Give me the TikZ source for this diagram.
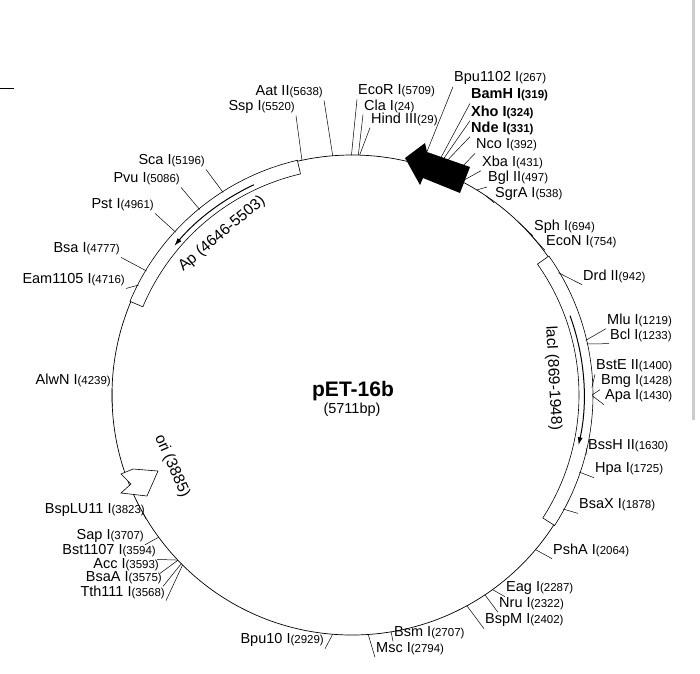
\documentclass[tikz,border=0pt]{standalone}
\usepackage{fontspec}
\setmainfont{Liberation Sans}
\usetikzlibrary{calc,arrows.meta}
\newcommand\numb[1]{{\fontsize{11.5}{12}\selectfont(#1)}}
\tikzset{lab/.style={font=\fontsize{14.5}{15}\selectfont,inner sep=1pt},
  leader/.style={line width=0.5pt},
  featbox/.style={draw,fill=white,line width=0.6pt},
  featlab/.style={font=\fontsize{15.5}{16}\selectfont},
  featarrow/.style={line width=1pt,-{Latex[length=8pt,width=5pt]}}}
\newcommand\site[5]{\node[lab,anchor=#5] (s#1) at (#3,#4) {#2};
  \draw[leader] ($(C)+({-90+#1/5711*360}:240)$) -- ([yshift=-1pt]s#1.south #5);}
\begin{document}
\begin{tikzpicture}[x=1pt,y=-1pt]
\useasboundingbox (0,0) rectangle (700,673);
\coordinate (C) at (352,395);
\draw[line width=0.7pt] (C) circle[radius=240];
\draw[line width=0.6pt] (0,88) -- (14,88);
\draw[gray!40,line width=3pt] (693,0) -- (693,420);
% feature boxes
\draw[featbox] ($(C)+(202.87:227)$) arc[start angle=202.87,end angle=256.89,radius=227] -- ($(C)+(256.89:241)$) arc[start angle=256.89,end angle=202.87,radius=241] -- cycle;
\draw[featarrow] ($(C)+(245:232)$) arc[start angle=245,end angle=220,radius=232];
\draw[featbox] ($(C)+(-35.22:227)$) arc[start angle=-35.22,end angle=32.79,radius=227] -- ($(C)+(32.79:241)$) arc[start angle=32.79,end angle=-35.22,radius=241] -- cycle;
\draw[featarrow] ($(C)+(-20:232)$) arc[start angle=-20,end angle=12.5,radius=232];
% black T7 arrow
\fill (405,158) -- (425,143) -- (427,152) -- (470,167) -- (460,193) -- (423,178) -- (420,185) -- cycle;
% ori
\draw[featbox] (121,474) -- (133,469) -- (158,471) -- (147,496) -- (121,493) -- (131,484) -- cycle;
% center
\node[font=\bfseries\fontsize{21}{23}\selectfont] (title) at (353,391) {pET-16b};
\node[font=\fontsize{14.5}{15}\selectfont] (size) at (352,410) {(5711bp)};
\node[featlab,rotate=40] (ap) at (222,234) {Ap (4646-5503)};
\node[featlab,rotate=-87] (laci) at (553,378) {lacI (869-1948)};
\node[featlab,rotate=-66] (ori) at (172,466) {ori (3885)};
% sites right
\site{267}{Bpu1102 I\numb{267}}{453}{78}{west}
\site{319}{\bfseries BamH I\numb{319}}{470}{95}{west}
\site{324}{\bfseries Xho I\numb{324}}{470}{112}{west}
\site{331}{\bfseries Nde I\numb{331}}{470}{128}{west}
\site{392}{Nco I\numb{392}}{475}{145}{west}
\site{431}{Xba I\numb{431}}{481}{162}{west}
\site{497}{Bgl II\numb{497}}{487}{178}{west}
\site{538}{SgrA I\numb{538}}{494}{194}{west}
\site{694}{Sph I\numb{694}}{533}{227}{west}
\site{754}{EcoN I\numb{754}}{545}{242}{west}
\site{942}{Drd II\numb{942}}{582}{276}{west}
\site{1219}{Mlu I\numb{1219}}{606}{320}{west}
\site{1233}{Bcl I\numb{1233}}{609}{335}{west}
\site{1400}{BstE II\numb{1400}}{595}{366}{west}
\site{1428}{Bmg I\numb{1428}}{600}{381}{west}
\site{1430}{Apa I\numb{1430}}{604}{396}{west}
\site{1630}{BssH II\numb{1630}}{587}{446}{west}
\site{1725}{Hpa I\numb{1725}}{594}{469}{west}
\site{1878}{BsaX I\numb{1878}}{578}{505}{west}
\site{2064}{PshA I\numb{2064}}{552}{550}{west}
\site{2287}{Eag I\numb{2287}}{505}{588}{west}
\site{2322}{Nru I\numb{2322}}{498}{604}{west}
\site{2402}{BspM I\numb{2402}}{484}{620}{west}
\site{2707}{Bsm I\numb{2707}}{393}{633}{west}
\site{2794}{Msc I\numb{2794}}{375}{649}{west}
\site{5709}{EcoR I\numb{5709}}{357}{91}{west}
\site{24}{Cla I\numb{24}}{363}{106}{west}
\site{29}{Hind III\numb{29}}{370}{119}{west}
% sites left
\site{5638}{Aat II\numb{5638}}{324}{92}{east}
\site{5520}{Ssp I\numb{5520}}{296}{107}{east}
\site{5196}{Sca I\numb{5196}}{206}{161}{east}
\site{5086}{Pvu I\numb{5086}}{181}{179}{east}
\site{4961}{Pst I\numb{4961}}{155}{205}{east}
\site{4777}{Bsa I\numb{4777}}{121}{249}{east}
\site{4716}{Eam1105 I\numb{4716}}{126}{280}{east}
\site{4239}{AlwN I\numb{4239}}{112}{380}{east}
\site{3823}{BspLU11 I\numb{3823}}{146}{510}{east}
\site{3707}{Sap I\numb{3707}}{145}{536}{east}
\site{3594}{Bst1107 I\numb{3594}}{157}{551}{east}
\site{3593}{Acc I\numb{3593}}{160}{565}{east}
\site{3575}{BsaA I\numb{3575}}{163}{578}{east}
\site{3568}{Tth111 I\numb{3568}}{166}{592}{east}
\site{2929}{Bpu10 I\numb{2929}}{325}{640}{east}
\end{tikzpicture}
\end{document}
